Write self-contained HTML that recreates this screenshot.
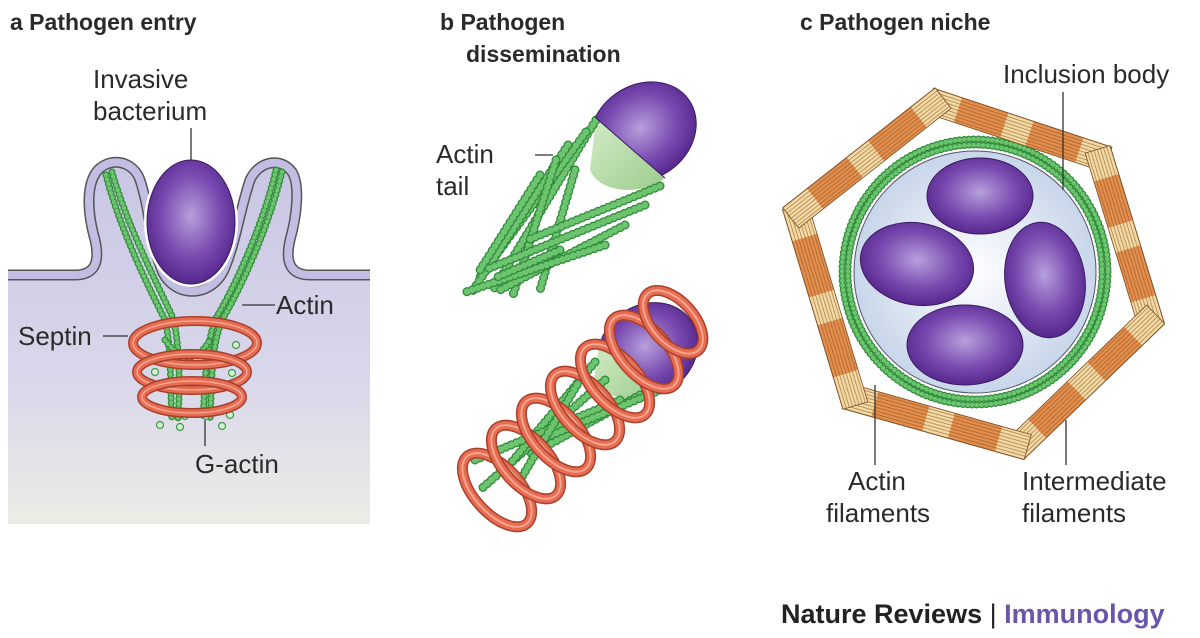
<!DOCTYPE html>
<html><head><meta charset="utf-8"><style>
html,body{margin:0;padding:0;background:#fff;}
svg{display:block;}
text{font-family:"Liberation Sans","DejaVu Sans",sans-serif;fill:#2a2a2a;}
.lab{font-size:26px;}
.ttl{font-size:23px;font-weight:bold;}
.a1{fill:none;stroke:#2f8a3a;stroke-width:7;stroke-linecap:round;stroke-dasharray:0.1 4.6;}
.a2{fill:none;stroke:#6cc46e;stroke-width:4.6;stroke-linecap:round;stroke-dasharray:0.1 4.6;}
.t1{fill:none;stroke:#2f8a3a;stroke-width:9;stroke-linecap:round;stroke-dasharray:0.1 5.5;}
.t2{fill:none;stroke:#6cc46e;stroke-width:6.5;stroke-linecap:round;stroke-dasharray:0.1 5.5;}
.ln{stroke:#333;stroke-width:1.3;fill:none;}
</style></head><body>
<svg width="1200" height="638" viewBox="0 0 1200 638" xmlns="http://www.w3.org/2000/svg">
<defs>
<radialGradient id="bac" cx="50%" cy="45%" r="60%">
<stop offset="0" stop-color="#b6a0dc"/><stop offset="0.55" stop-color="#7a4bb0"/><stop offset="1" stop-color="#4e1f85"/>
</radialGradient>
<linearGradient id="cyto" x1="0" y1="0" x2="0" y2="1">
<stop offset="0" stop-color="#c9c6e4"/><stop offset="0.6" stop-color="#d9d7ea"/><stop offset="1" stop-color="#ecece6"/>
</linearGradient>
<radialGradient id="incl" cx="50%" cy="50%" r="50%">
<stop offset="0" stop-color="#ffffff"/><stop offset="1" stop-color="#c8d6ea"/>
</radialGradient>
<linearGradient id="cone" x1="0" y1="0" x2="1" y2="1">
<stop offset="0" stop-color="#d4ecc8"/><stop offset="1" stop-color="#9ccc8c"/>
</linearGradient>
<linearGradient id="seg" x1="0" y1="0" x2="1" y2="0">
<stop offset="0" stop-color="#f4d9a2"/><stop offset="0.16" stop-color="#f4d9a2"/>
<stop offset="0.16" stop-color="#e58e4c"/><stop offset="0.42" stop-color="#e58e4c"/>
<stop offset="0.42" stop-color="#f4d9a2"/><stop offset="0.56" stop-color="#f4d9a2"/>
<stop offset="0.56" stop-color="#e58e4c"/><stop offset="0.84" stop-color="#e58e4c"/>
<stop offset="0.84" stop-color="#f4d9a2"/><stop offset="1" stop-color="#f4d9a2"/>
</linearGradient>
<pattern id="lines" width="10" height="3.3" patternUnits="userSpaceOnUse">
<line x1="0" y1="0.5" x2="10" y2="0.5" stroke="#7a4a22" stroke-width="0.7" stroke-opacity="0.7"/>
</pattern>
<clipPath id="cut1"><polygon points="596,118 665,178 760,178 760,40 560,40 560,118"/></clipPath>
<clipPath id="cut2"><polygon points="600,338 662,392 760,392 760,250 560,250 560,338"/></clipPath>
<g id="ring"><ellipse rx="23" ry="45" stroke="#a8402c" stroke-width="11"/><ellipse rx="23" ry="45" stroke="#e66c52" stroke-width="8"/><ellipse rx="23" ry="45" stroke="#f5a590" stroke-width="2"/></g>
</defs>

<!-- Titles -->
<text x="10" y="30" class="ttl">a  Pathogen entry</text>
<text x="440" y="30" class="ttl">b  Pathogen</text>
<text x="466" y="62" class="ttl">dissemination</text>
<text x="800" y="30" class="ttl">c  Pathogen niche</text>

<!-- Panel a -->
<path d="M8,275 L75,275 C95,275 100,262 95,240 C88,215 85,185 98,170 C112,156 134,162 140,180 C150,210 150,240 160,265 C170,300 214,300 226,265 C236,240 240,210 250,180 C258,162 280,156 292,172 C300,185 297,215 290,240 C285,262 290,275 310,275 L370,275 L370,524 L8,524 Z" fill="url(#cyto)"/>
<path d="M8,275 L75,275 C95,275 100,262 95,240 C88,215 85,185 98,170 C112,156 134,162 140,180 C150,210 150,240 160,265 C170,300 214,300 226,265 C236,240 240,210 250,180 C258,162 280,156 292,172 C300,185 297,215 290,240 C285,262 290,275 310,275 L370,275" fill="none" stroke="#555" stroke-width="11"/>
<path d="M8,275 L75,275 C95,275 100,262 95,240 C88,215 85,185 98,170 C112,156 134,162 140,180 C150,210 150,240 160,265 C170,300 214,300 226,265 C236,240 240,210 250,180 C258,162 280,156 292,172 C300,185 297,215 290,240 C285,262 290,275 310,275 L370,275" fill="none" stroke="#c2bde3" stroke-width="8"/>
<ellipse cx="191" cy="222" rx="47" ry="65" fill="#fff"/>
<ellipse cx="191" cy="222" rx="44" ry="62" fill="url(#bac)" stroke="#3a1a60" stroke-width="1"/>
<line x1="191" y1="128" x2="191" y2="160" class="ln"/>
<text x="93" y="88" class="lab">Invasive</text>
<text x="93" y="120" class="lab">bacterium</text>

<g>
<path class="a1" d="M106,175 C120,230 150,290 165,320 C172,350 170,390 172,420"/>
<path class="a2" d="M106,175 C120,230 150,290 165,320 C172,350 170,390 172,420"/>
<path class="a1" d="M112,172 C128,228 158,285 173,318 C180,345 180,390 178,418"/>
<path class="a2" d="M112,172 C128,228 158,285 173,318 C180,345 180,390 178,418"/>
<path class="a1" d="M282,172 C268,230 240,290 222,320 C210,350 212,390 210,420"/>
<path class="a2" d="M282,172 C268,230 240,290 222,320 C210,350 212,390 210,420"/>
<path class="a1" d="M276,170 C262,228 234,288 216,318 C205,345 205,390 203,418"/>
<path class="a2" d="M276,170 C262,228 234,288 216,318 C205,345 205,390 203,418"/>
<path class="a1" d="M165,340 C180,360 195,365 210,340"/>
<path class="a2" d="M165,340 C180,360 195,365 210,340"/>
</g>
<g fill="#d8f0d4" stroke="#3a9a48" stroke-width="1.2">
<circle cx="160" cy="425" r="3.5"/><circle cx="180" cy="427" r="3.5"/><circle cx="185" cy="416" r="3.5"/>
<circle cx="206" cy="416" r="3.5"/><circle cx="222" cy="426" r="3.5"/><circle cx="230" cy="415" r="3.5"/>
<circle cx="155" cy="372" r="3.5"/><circle cx="232" cy="373" r="3.5"/><circle cx="236" cy="345" r="3.5"/>
</g>
<g fill="none">
<ellipse cx="195" cy="343" rx="62" ry="22" stroke="#a8402c" stroke-width="10"/>
<ellipse cx="195" cy="343" rx="62" ry="22" stroke="#e66c52" stroke-width="7"/>
<ellipse cx="195" cy="343" rx="62" ry="22" stroke="#f5a590" stroke-width="1.5"/>
<ellipse cx="192" cy="372" rx="55" ry="18" stroke="#a8402c" stroke-width="10"/>
<ellipse cx="192" cy="372" rx="55" ry="18" stroke="#e66c52" stroke-width="7"/>
<ellipse cx="192" cy="372" rx="55" ry="18" stroke="#f5a590" stroke-width="1.5"/>
<ellipse cx="192" cy="397" rx="50" ry="16" stroke="#a8402c" stroke-width="10"/>
<ellipse cx="192" cy="397" rx="50" ry="16" stroke="#e66c52" stroke-width="7"/>
<ellipse cx="192" cy="397" rx="50" ry="16" stroke="#f5a590" stroke-width="1.5"/>
</g>
<line x1="242" y1="305" x2="275" y2="305" class="ln"/>
<text x="276" y="314" class="lab">Actin</text>
<line x1="103" y1="336" x2="128" y2="336" class="ln"/>
<text x="18" y="345" class="lab">Septin</text>
<line x1="205" y1="420" x2="205" y2="446" class="ln"/>
<text x="195" y="473" class="lab">G-actin</text>

<!-- Panel b top -->
<path d="M596,118 L665,178 C645,195 600,195 590,170 Z" fill="url(#cone)"/>
<g>
<path class="t1" d="M596,120 L492,292"/><path class="t2" d="M596,120 L492,292"/>
<path class="t1" d="M586,132 L478,280"/><path class="t2" d="M586,132 L478,280"/>
<path class="t1" d="M568,145 L470,295"/><path class="t2" d="M568,145 L470,295"/>
<path class="t1" d="M556,160 L512,298"/><path class="t2" d="M556,160 L512,298"/>
<path class="t1" d="M575,170 L540,290"/><path class="t2" d="M575,170 L540,290"/>
<path class="t1" d="M540,175 L480,270"/><path class="t2" d="M540,175 L480,270"/>
<path class="t1" d="M660,186 L528,240"/><path class="t2" d="M660,186 L528,240"/>
<path class="t1" d="M645,205 L485,270"/><path class="t2" d="M645,205 L485,270"/>
<path class="t1" d="M625,225 L500,290"/><path class="t2" d="M625,225 L500,290"/>
<path class="t1" d="M605,245 L466,292"/><path class="t2" d="M605,245 L466,292"/>
<path class="t1" d="M560,250 L495,278"/><path class="t2" d="M560,250 L495,278"/>
</g>
<g clip-path="url(#cut1)">
<ellipse cx="643" cy="132" rx="56" ry="47" transform="rotate(-35 643 132)" fill="url(#bac)" stroke="#3a1a60" stroke-width="1"/>
</g>
<line x1="596" y1="118" x2="665" y2="178" stroke="#3a1a60" stroke-width="1"/>
<line x1="535" y1="155" x2="553" y2="155" class="ln"/>
<text x="436" y="163" class="lab">Actin</text>
<text x="436" y="195" class="lab">tail</text>

<!-- Panel b bottom -->
<path d="M600,338 L662,392 C640,405 605,400 594,380 Z" fill="url(#cone)"/>
<g>
<path class="t1" d="M605,380 L480,490"/><path class="t2" d="M605,380 L480,490"/>
<path class="t1" d="M595,362 L505,470"/><path class="t2" d="M595,362 L505,470"/>
<path class="t1" d="M640,395 L530,455"/><path class="t2" d="M640,395 L530,455"/>
<path class="t1" d="M620,400 L470,462"/><path class="t2" d="M620,400 L470,462"/>
<path class="t1" d="M660,390 L540,440"/><path class="t2" d="M660,390 L540,440"/>
<path class="t1" d="M580,380 L520,480"/><path class="t2" d="M580,380 L520,480"/>
</g>
<g clip-path="url(#cut2)">
<ellipse cx="648" cy="350" rx="52" ry="45" transform="rotate(-35 648 350)" fill="url(#bac)" stroke="#3a1a60" stroke-width="1"/>
</g>
<g fill="none">
<use href="#ring" transform="translate(497,490) rotate(-42)"/>
<use href="#ring" transform="translate(526,462) rotate(-42)"/>
<use href="#ring" transform="translate(556,435) rotate(-42)"/>
<use href="#ring" transform="translate(585,408) rotate(-42)"/>
<use href="#ring" transform="translate(615,381) rotate(-42)"/>
<use href="#ring" transform="translate(644,352) rotate(-42)"/>
<g transform="translate(673,322) rotate(-42)"><ellipse rx="21" ry="38" stroke="#a8402c" stroke-width="11"/><ellipse rx="21" ry="38" stroke="#e66c52" stroke-width="8"/><ellipse rx="21" ry="38" stroke="#f5a590" stroke-width="2"/></g>
</g>

<!-- Panel c -->
<circle cx="975" cy="272" r="133" class="a1"/><circle cx="975" cy="272" r="133" class="a2"/>
<circle cx="975" cy="272" r="127" class="a1"/><circle cx="975" cy="272" r="127" class="a2"/>
<circle cx="975" cy="272" r="121" fill="url(#incl)" stroke="#556" stroke-width="1"/>
<ellipse cx="980" cy="196" rx="53" ry="38" fill="url(#bac)" stroke="#3a1a60" stroke-width="1"/>
<ellipse cx="917" cy="264" rx="57" ry="41" transform="rotate(10 917 264)" fill="url(#bac)" stroke="#3a1a60" stroke-width="1"/>
<ellipse cx="1045" cy="280" rx="40" ry="58" transform="rotate(-8 1045 280)" fill="url(#bac)" stroke="#3a1a60" stroke-width="1"/>
<ellipse cx="965" cy="345" rx="58" ry="40" fill="url(#bac)" stroke="#3a1a60" stroke-width="1"/>

<g stroke="#7a4a22" stroke-width="0.8">
<g transform="translate(937,103) rotate(18.3)"><rect x="-8" y="-13" width="188" height="26" fill="url(#seg)"/><rect x="-8" y="-13" width="188" height="26" fill="url(#lines)" stroke="none"/></g>
<g transform="translate(1100,157) rotate(73)"><rect x="-8" y="-13" width="186" height="26" fill="url(#seg)"/><rect x="-8" y="-13" width="186" height="26" fill="url(#lines)" stroke="none"/></g>
<g transform="translate(1150,320) rotate(136.1)"><rect x="-8" y="-13" width="196" height="26" fill="url(#seg)"/><rect x="-8" y="-13" width="196" height="26" fill="url(#lines)" stroke="none"/></g>
<g transform="translate(1020,445) rotate(195.7)"><rect x="-8" y="-13" width="189" height="26" fill="url(#seg)"/><rect x="-8" y="-13" width="189" height="26" fill="url(#lines)" stroke="none"/></g>
<g transform="translate(853,398) rotate(253.2)"><rect x="-8" y="-13" width="209" height="26" fill="url(#seg)"/><rect x="-8" y="-13" width="209" height="26" fill="url(#lines)" stroke="none"/></g>
<g transform="translate(797,213) rotate(-38.2)"><rect x="-8" y="-13" width="194" height="26" fill="url(#seg)"/><rect x="-8" y="-13" width="194" height="26" fill="url(#lines)" stroke="none"/></g>
</g>

<line x1="1063" y1="92" x2="1063" y2="190" class="ln"/>
<text x="1003" y="83" class="lab">Inclusion body</text>
<line x1="875" y1="385" x2="875" y2="465" class="ln"/>
<text x="848" y="490" class="lab">Actin</text>
<text x="826" y="522" class="lab">filaments</text>
<line x1="1066" y1="420" x2="1066" y2="465" class="ln"/>
<text x="1022" y="490" class="lab">Intermediate</text>
<text x="1022" y="522" class="lab">filaments</text>

<text x="781" y="623" style="font-size:27px;font-weight:bold;fill:#222">Nature Reviews <tspan style="font-weight:normal">|</tspan> <tspan style="fill:#6a56a8">Immunology</tspan></text>
</svg>
</body></html>
